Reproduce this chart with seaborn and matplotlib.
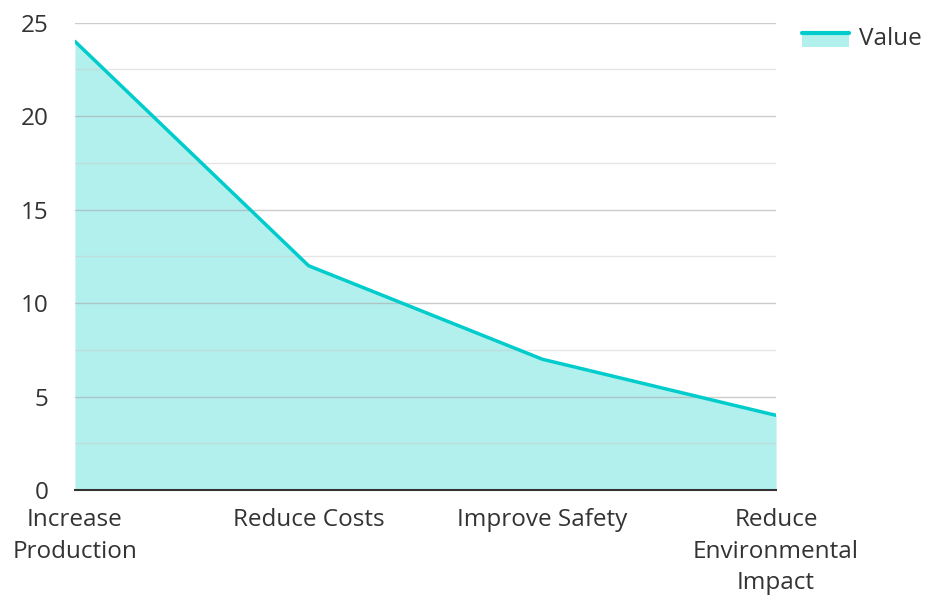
import matplotlib
matplotlib.use("Agg")
import matplotlib.pyplot as plt
import pandas as pd
import seaborn as sns
from matplotlib.lines import Line2D
from matplotlib.patches import Patch, Rectangle
from matplotlib.ticker import MultipleLocator

categories = ["Increase\nProduction", "Reduce Costs", "Improve Safety", "Reduce\nEnvironmental\nImpact"]
values = [24, 12, 7, 4]

LINE = "#00cccc"
FILL = "#b2f0ee"
TEXT = "#333333"
FS = 17.5

sns.set_theme(style="white")
plt.rcParams["font.family"] = ["Open Sans", "DejaVu Sans"]

df = pd.DataFrame({"goal": categories, "value": values, "pos": range(len(categories))})

fig = plt.figure(figsize=(9.25, 5.97), dpi=100)
ax = fig.add_axes([0.081, 0.179, 0.758, 0.783])

ax.fill_between(df["pos"], df["value"], 0, color=FILL, zorder=1, linewidth=0)
sns.lineplot(data=df, x="pos", y="value", ax=ax, color=LINE, linewidth=2.5, zorder=3)

ax.set_xlim(0, len(categories) - 1)
ax.set_ylim(0, 25)
ax.yaxis.set_major_locator(MultipleLocator(5))
ax.yaxis.set_minor_locator(MultipleLocator(2.5))
ax.set_axisbelow(False)
ax.grid(which="major", axis="y", color="#aaaaaa", linewidth=1, alpha=0.6, zorder=2)
ax.grid(which="minor", axis="y", color="#cccccc", linewidth=1, alpha=0.5, zorder=2)
ax.grid(axis="x", visible=False)

ax.set_xticks(df["pos"])
ax.set_xticklabels(categories, fontsize=FS, color=TEXT, linespacing=1.42)
ax.tick_params(axis="y", labelsize=FS, labelcolor=TEXT, length=0, pad=19)
ax.tick_params(axis="x", length=0, pad=13)
ax.set_xlabel("")
ax.set_ylabel("")

for s in ["top", "right", "left"]:
    ax.spines[s].set_visible(False)
ax.spines["bottom"].set_color(TEXT)
ax.spines["bottom"].set_linewidth(1.5)
ax.spines["bottom"].set_zorder(4)


class SwatchHandler:
    def legend_artist(self, legend, orig_handle, fontsize, handlebox):
        x0, y0 = handlebox.xdescent, handlebox.ydescent
        w, h = handlebox.width, handlebox.height
        rect = Rectangle((x0, y0), w, h, facecolor=FILL, edgecolor="none",
                         transform=handlebox.get_transform())
        line = Line2D([x0, x0 + w], [y0 + h, y0 + h], color=LINE, linewidth=3,
                      transform=handlebox.get_transform())
        handlebox.add_artist(rect)
        handlebox.add_artist(line)
        return rect


handle = (Patch(facecolor=FILL), Line2D([0], [0], color=LINE))
leg = ax.legend([handle], ["Value"], handler_map={tuple: SwatchHandler()}, loc="center left",
                bbox_to_anchor=(1.037, 0.965), frameon=False, fontsize=FS, handlelength=1.95,
                handleheight=0.5, handletextpad=0.4, borderpad=0, borderaxespad=0)
for t in leg.get_texts():
    t.set_color(TEXT)

fig.savefig("out.png", dpi=100)
